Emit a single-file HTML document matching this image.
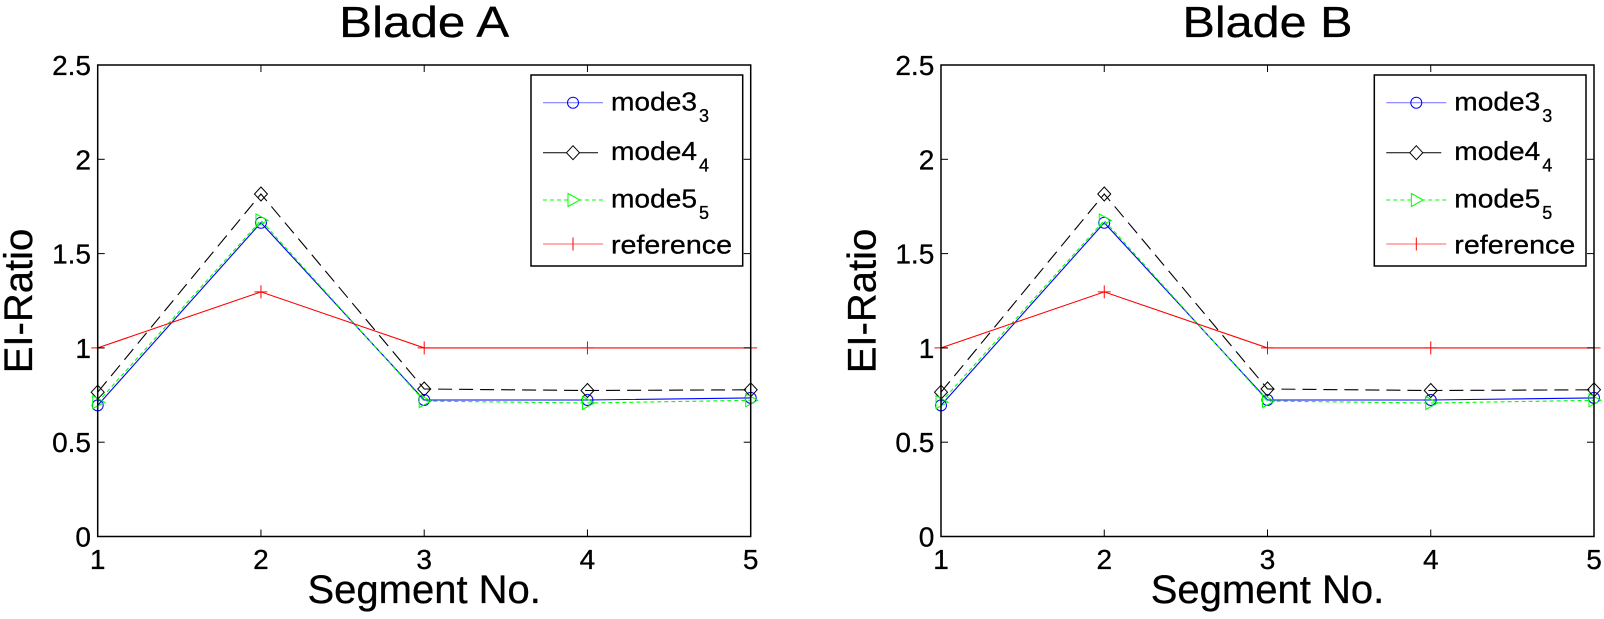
<!DOCTYPE html>
<html>
<head>
<meta charset="utf-8">
<style>
html,body{margin:0;padding:0;background:#fff;}
svg{display:block;}
text{font-family:"Liberation Sans",Arial,sans-serif;fill:#000;stroke:#000;stroke-width:0.3px;}
</style>
</head>
<body>
<svg width="1604" height="619" viewBox="0 0 1604 619" xmlns="http://www.w3.org/2000/svg">
<rect width="1604" height="619" fill="#fff"/>

<!-- ================= LEFT PLOT ================= -->
<g>
  <polyline points="97.7,405.4 260.95,222.7 424.2,400.0 587.45,400.0 750.7,397.9" fill="none" stroke="#0000ff" stroke-width="1.1"/>
  <polyline points="97.7,392.2 260.95,194.0 424.2,389.0 587.45,390.5 750.7,389.8" fill="none" stroke="#000" stroke-width="1.1" stroke-dasharray="14,7"/>
  <polyline points="97.7,402.2 260.95,220.4 424.2,401.1 587.45,403.0 750.7,400.3" fill="none" stroke="#00ff00" stroke-width="1.1" stroke-dasharray="4,3"/>
  <polyline points="97.7,347.9 260.95,291.9 424.2,347.9 587.45,347.9 750.7,347.9" fill="none" stroke="#ff0000" stroke-width="1.1"/>

  <g fill="none" stroke="#0000ff" stroke-width="1">
    <circle cx="97.7" cy="405.4" r="5.5"/><circle cx="260.95" cy="222.7" r="5.5"/><circle cx="424.2" cy="400.0" r="5.5"/><circle cx="587.45" cy="400.0" r="5.5"/><circle cx="750.7" cy="397.9" r="5.5"/>
  </g>
  <g fill="none" stroke="#000" stroke-width="1">
    <polygon points="97.7,385.2 104.2,392.2 97.7,399.2 91.2,392.2"/>
    <polygon points="260.95,187.0 267.45,194.0 260.95,201.0 254.45,194.0"/>
    <polygon points="424.2,382.0 430.7,389.0 424.2,396.0 417.7,389.0"/>
    <polygon points="587.45,383.5 593.95,390.5 587.45,397.5 580.95,390.5"/>
    <polygon points="750.7,382.8 757.2,389.8 750.7,396.8 744.2,389.8"/>
  </g>
  <g fill="none" stroke="#00ff00" stroke-width="1">
    <polygon points="92.7,395.7 104.7,402.2 92.7,408.7"/>
    <polygon points="255.95,213.9 267.95,220.4 255.95,226.9"/>
    <polygon points="419.2,394.6 431.2,401.1 419.2,407.6"/>
    <polygon points="582.45,396.5 594.45,403.0 582.45,409.5"/>
    <polygon points="745.7,393.8 757.7,400.3 745.7,406.8"/>
  </g>
  <g stroke="#ff0000" stroke-width="1">
    <line x1="91.2" y1="347.9" x2="104.2" y2="347.9"/><line x1="97.7" y1="341.4" x2="97.7" y2="354.4"/>
    <line x1="254.45" y1="291.9" x2="267.45" y2="291.9"/><line x1="260.95" y1="285.4" x2="260.95" y2="298.4"/>
    <line x1="417.7" y1="347.9" x2="430.7" y2="347.9"/><line x1="424.2" y1="341.4" x2="424.2" y2="354.4"/>
    <line x1="580.95" y1="347.9" x2="593.95" y2="347.9"/><line x1="587.45" y1="341.4" x2="587.45" y2="354.4"/>
    <line x1="744.2" y1="347.9" x2="757.2" y2="347.9"/><line x1="750.7" y1="341.4" x2="750.7" y2="354.4"/>
  </g>

  <rect x="97.7" y="65" width="653" height="471.5" fill="none" stroke="#000" stroke-width="1.5"/>
  <g stroke="#000" stroke-width="1">
    <line x1="260.95" y1="536.5" x2="260.95" y2="529.5"/><line x1="424.2" y1="536.5" x2="424.2" y2="529.5"/><line x1="587.45" y1="536.5" x2="587.45" y2="529.5"/>
    <line x1="260.95" y1="65" x2="260.95" y2="72"/><line x1="424.2" y1="65" x2="424.2" y2="72"/><line x1="587.45" y1="65" x2="587.45" y2="72"/>
    <line x1="97.7" y1="442.2" x2="104.7" y2="442.2"/><line x1="97.7" y1="347.9" x2="104.7" y2="347.9"/><line x1="97.7" y1="253.6" x2="104.7" y2="253.6"/><line x1="97.7" y1="159.3" x2="104.7" y2="159.3"/>
    <line x1="750.7" y1="442.2" x2="743.7" y2="442.2"/><line x1="750.7" y1="347.9" x2="743.7" y2="347.9"/><line x1="750.7" y1="253.6" x2="743.7" y2="253.6"/><line x1="750.7" y1="159.3" x2="743.7" y2="159.3"/>
  </g>
  <g font-size="28" text-anchor="end">
    <text x="91" y="546.5">0</text>
    <text x="91" y="452.2">0.5</text>
    <text x="91" y="357.9">1</text>
    <text x="91" y="263.6">1.5</text>
    <text x="91" y="169.3">2</text>
    <text x="91" y="75">2.5</text>
  </g>
  <g font-size="28" text-anchor="middle">
    <text x="97.7" y="569">1</text>
    <text x="260.95" y="569">2</text>
    <text x="424.2" y="569">3</text>
    <text x="587.45" y="569">4</text>
    <text x="750.7" y="569">5</text>
  </g>
  <text x="424.2" y="37" font-size="44" text-anchor="middle" textLength="170" lengthAdjust="spacingAndGlyphs">Blade A</text>
  <text x="424.2" y="603" font-size="40" text-anchor="middle">Segment No.</text>
  <text transform="translate(32,301) rotate(-90)" font-size="40" text-anchor="middle">EI-Ratio</text>

  <rect x="531" y="75" width="211.7" height="191" fill="#fff" stroke="#000" stroke-width="1.5"/>
  <line x1="543" y1="102.7" x2="603" y2="102.7" stroke="#8080ff" stroke-width="1.2"/>
  <circle cx="573" cy="102.7" r="5.5" fill="none" stroke="#0000ff" stroke-width="1"/>
  <line x1="543" y1="152.7" x2="598" y2="152.7" stroke="#000" stroke-width="1"/>
  <polygon points="573,145.7 579.5,152.7 573,159.7 566.5,152.7" fill="#fff" stroke="#000" stroke-width="1"/>
  <line x1="543" y1="200" x2="603" y2="200" stroke="#00ff00" stroke-width="1" stroke-dasharray="4,3"/>
  <polygon points="568,193.5 580,200 568,206.5" fill="#fff" stroke="#00ff00" stroke-width="1"/>
  <line x1="543" y1="244" x2="603" y2="244" stroke="#ff8080" stroke-width="1.2"/>
  <line x1="573" y1="237.5" x2="573" y2="250.5" stroke="#ff0000" stroke-width="1"/>
  <g font-size="26">
    <text x="611" y="110.5" textLength="86" lengthAdjust="spacingAndGlyphs">mode3</text>
    <text x="611" y="160" textLength="86" lengthAdjust="spacingAndGlyphs">mode4</text>
    <text x="611" y="207.5" textLength="86" lengthAdjust="spacingAndGlyphs">mode5</text>
    <text x="611" y="253.5" textLength="121" lengthAdjust="spacingAndGlyphs">reference</text>
  </g>
  <g font-size="18">
    <text x="699" y="122">3</text>
    <text x="699" y="171.5">4</text>
    <text x="699" y="219">5</text>
  </g>
</g>

<!-- ================= RIGHT PLOT ================= -->
<g transform="translate(843.3,0)">
  <polyline points="97.7,405.4 260.95,222.7 424.2,400.0 587.45,400.0 750.7,397.9" fill="none" stroke="#0000ff" stroke-width="1.1"/>
  <polyline points="97.7,392.2 260.95,194.0 424.2,389.0 587.45,390.5 750.7,389.8" fill="none" stroke="#000" stroke-width="1.1" stroke-dasharray="14,7"/>
  <polyline points="97.7,402.2 260.95,220.4 424.2,401.1 587.45,403.0 750.7,400.3" fill="none" stroke="#00ff00" stroke-width="1.1" stroke-dasharray="4,3"/>
  <polyline points="97.7,347.9 260.95,291.9 424.2,347.9 587.45,347.9 750.7,347.9" fill="none" stroke="#ff0000" stroke-width="1.1"/>

  <g fill="none" stroke="#0000ff" stroke-width="1">
    <circle cx="97.7" cy="405.4" r="5.5"/><circle cx="260.95" cy="222.7" r="5.5"/><circle cx="424.2" cy="400.0" r="5.5"/><circle cx="587.45" cy="400.0" r="5.5"/><circle cx="750.7" cy="397.9" r="5.5"/>
  </g>
  <g fill="none" stroke="#000" stroke-width="1">
    <polygon points="97.7,385.2 104.2,392.2 97.7,399.2 91.2,392.2"/>
    <polygon points="260.95,187.0 267.45,194.0 260.95,201.0 254.45,194.0"/>
    <polygon points="424.2,382.0 430.7,389.0 424.2,396.0 417.7,389.0"/>
    <polygon points="587.45,383.5 593.95,390.5 587.45,397.5 580.95,390.5"/>
    <polygon points="750.7,382.8 757.2,389.8 750.7,396.8 744.2,389.8"/>
  </g>
  <g fill="none" stroke="#00ff00" stroke-width="1">
    <polygon points="92.7,395.7 104.7,402.2 92.7,408.7"/>
    <polygon points="255.95,213.9 267.95,220.4 255.95,226.9"/>
    <polygon points="419.2,394.6 431.2,401.1 419.2,407.6"/>
    <polygon points="582.45,396.5 594.45,403.0 582.45,409.5"/>
    <polygon points="745.7,393.8 757.7,400.3 745.7,406.8"/>
  </g>
  <g stroke="#ff0000" stroke-width="1">
    <line x1="91.2" y1="347.9" x2="104.2" y2="347.9"/><line x1="97.7" y1="341.4" x2="97.7" y2="354.4"/>
    <line x1="254.45" y1="291.9" x2="267.45" y2="291.9"/><line x1="260.95" y1="285.4" x2="260.95" y2="298.4"/>
    <line x1="417.7" y1="347.9" x2="430.7" y2="347.9"/><line x1="424.2" y1="341.4" x2="424.2" y2="354.4"/>
    <line x1="580.95" y1="347.9" x2="593.95" y2="347.9"/><line x1="587.45" y1="341.4" x2="587.45" y2="354.4"/>
    <line x1="744.2" y1="347.9" x2="757.2" y2="347.9"/><line x1="750.7" y1="341.4" x2="750.7" y2="354.4"/>
  </g>

  <rect x="97.7" y="65" width="653" height="471.5" fill="none" stroke="#000" stroke-width="1.5"/>
  <g stroke="#000" stroke-width="1">
    <line x1="260.95" y1="536.5" x2="260.95" y2="529.5"/><line x1="424.2" y1="536.5" x2="424.2" y2="529.5"/><line x1="587.45" y1="536.5" x2="587.45" y2="529.5"/>
    <line x1="260.95" y1="65" x2="260.95" y2="72"/><line x1="424.2" y1="65" x2="424.2" y2="72"/><line x1="587.45" y1="65" x2="587.45" y2="72"/>
    <line x1="97.7" y1="442.2" x2="104.7" y2="442.2"/><line x1="97.7" y1="347.9" x2="104.7" y2="347.9"/><line x1="97.7" y1="253.6" x2="104.7" y2="253.6"/><line x1="97.7" y1="159.3" x2="104.7" y2="159.3"/>
    <line x1="750.7" y1="442.2" x2="743.7" y2="442.2"/><line x1="750.7" y1="347.9" x2="743.7" y2="347.9"/><line x1="750.7" y1="253.6" x2="743.7" y2="253.6"/><line x1="750.7" y1="159.3" x2="743.7" y2="159.3"/>
  </g>
  <g font-size="28" text-anchor="end">
    <text x="91" y="546.5">0</text>
    <text x="91" y="452.2">0.5</text>
    <text x="91" y="357.9">1</text>
    <text x="91" y="263.6">1.5</text>
    <text x="91" y="169.3">2</text>
    <text x="91" y="75">2.5</text>
  </g>
  <g font-size="28" text-anchor="middle">
    <text x="97.7" y="569">1</text>
    <text x="260.95" y="569">2</text>
    <text x="424.2" y="569">3</text>
    <text x="587.45" y="569">4</text>
    <text x="750.7" y="569">5</text>
  </g>
  <text x="424.2" y="37" font-size="44" text-anchor="middle" textLength="170" lengthAdjust="spacingAndGlyphs">Blade B</text>
  <text x="424.2" y="603" font-size="40" text-anchor="middle">Segment No.</text>
  <text transform="translate(32,301) rotate(-90)" font-size="40" text-anchor="middle">EI-Ratio</text>

  <rect x="531" y="75" width="211.7" height="191" fill="#fff" stroke="#000" stroke-width="1.5"/>
  <line x1="543" y1="102.7" x2="603" y2="102.7" stroke="#8080ff" stroke-width="1.2"/>
  <circle cx="573" cy="102.7" r="5.5" fill="none" stroke="#0000ff" stroke-width="1"/>
  <line x1="543" y1="152.7" x2="598" y2="152.7" stroke="#000" stroke-width="1"/>
  <polygon points="573,145.7 579.5,152.7 573,159.7 566.5,152.7" fill="#fff" stroke="#000" stroke-width="1"/>
  <line x1="543" y1="200" x2="603" y2="200" stroke="#00ff00" stroke-width="1" stroke-dasharray="4,3"/>
  <polygon points="568,193.5 580,200 568,206.5" fill="#fff" stroke="#00ff00" stroke-width="1"/>
  <line x1="543" y1="244" x2="603" y2="244" stroke="#ff8080" stroke-width="1.2"/>
  <line x1="573" y1="237.5" x2="573" y2="250.5" stroke="#ff0000" stroke-width="1"/>
  <g font-size="26">
    <text x="611" y="110.5" textLength="86" lengthAdjust="spacingAndGlyphs">mode3</text>
    <text x="611" y="160" textLength="86" lengthAdjust="spacingAndGlyphs">mode4</text>
    <text x="611" y="207.5" textLength="86" lengthAdjust="spacingAndGlyphs">mode5</text>
    <text x="611" y="253.5" textLength="121" lengthAdjust="spacingAndGlyphs">reference</text>
  </g>
  <g font-size="18">
    <text x="699" y="122">3</text>
    <text x="699" y="171.5">4</text>
    <text x="699" y="219">5</text>
  </g>
</g>
</svg>
</body>
</html>
